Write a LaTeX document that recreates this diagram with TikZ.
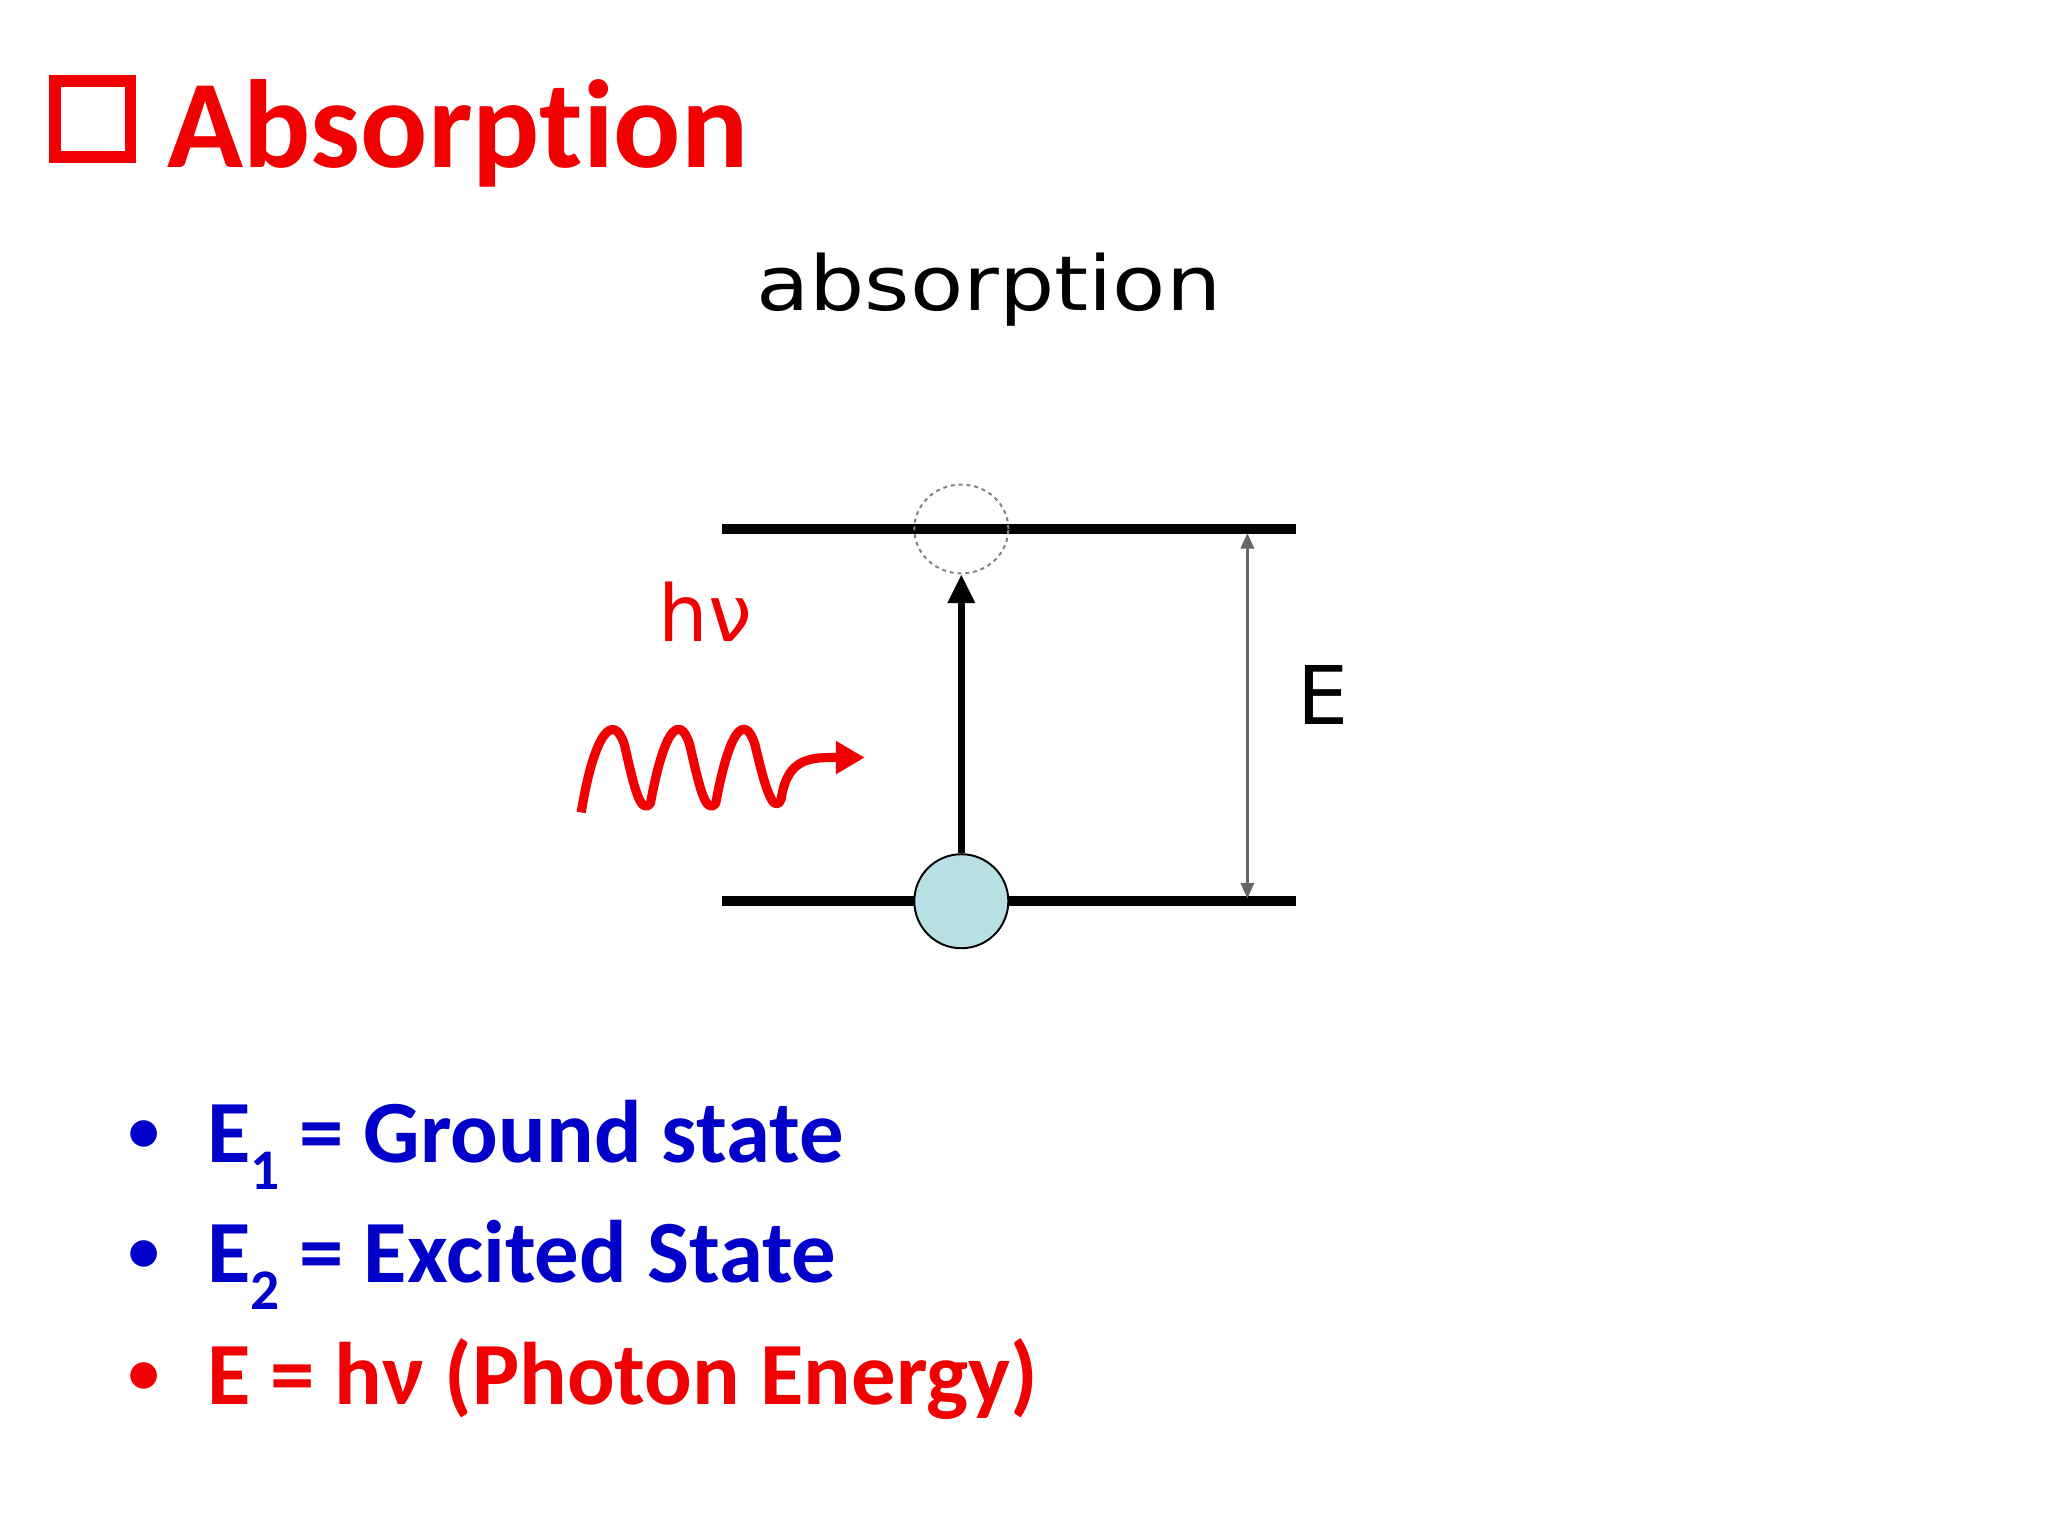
\documentclass[tikz,border=0pt]{standalone}
\usepackage{fontspec}
\setmainfont[Ligatures=NoCommon,Contextuals=NoAlternate]{Carlito}
\newfontfamily\diag{DejaVu Sans}
\usetikzlibrary{arrows.meta,shapes.geometric}
\definecolor{tred}{RGB}{240,0,0}
\definecolor{tblue}{RGB}{0,0,200}
\definecolor{ball}{RGB}{184,224,228}
\newcommand{\mysub}[1]{\raisebox{-0.3em}{\fontsize{44}{50}\selectfont #1}}
\newcommand{\mybul}{\makebox[60pt][l]{\raisebox{0.12em}{\fontsize{48}{50}\selectfont•}}}
\tikzset{level/.style={line width=8pt},
 bul/.style={anchor=base west,font=\fontsize{68}{80}\selectfont\bfseries}}
\begin{document}
\begin{tikzpicture}[x=1pt,y=-1pt]
\useasboundingbox (0,0) rectangle (1568,1176);
% title
\draw[tred,line width=9pt] (42,62) rectangle (100,120);
\node[tred,anchor=base west,font=\fontsize{96}{110}\selectfont\bfseries] (title) at (125,128) {Absorption};
\node[font=\diag\fontsize{58}{66}\selectfont,xscale=1.15] (sub) at (757,222) {absorption};
% levels
\coordinate (u1) at (553,405); \coordinate (u2) at (992,405);
\coordinate (l1) at (553,690); \coordinate (l2) at (992,690);
\draw[level] (u1) -- (u2);
\draw[level] (l1) -- (l2);
\node[draw=gray,dashed,ellipse,minimum width=72pt,minimum height=68pt,line width=1.5pt,inner sep=0] (ex) at (736,405) {};
\node[draw=black,fill=ball,circle,minimum size=72pt,line width=1.5pt,inner sep=0] (gs) at (736,690) {};
\draw[line width=5pt,-{Triangle[length=22pt,width=20pt]}] (gs.north) -- (ex.south);
\coordinate (ea) at (955,408); \coordinate (eb) at (955,688);
\draw[gray!80!black,line width=2.5pt,{Triangle[length=12pt,width=10pt]}-{Triangle[length=12pt,width=10pt]}] (ea) -- (eb);
\node[font=\diag\fontsize{62}{70}\selectfont] (E) at (1013,532) {E};
\node[tred,font=\diag\fontsize{60}{70}\selectfont] (hv) at (540,468) {hν};
% photon
\draw[tred,line width=7pt,line join=round,-{Triangle[length=22pt,width=24pt]}]
 (445,622) .. controls (455,560) and (470,545) .. (478,570)
 .. controls (485,600) and (490,625) .. (498,615)
 .. controls (508,560) and (520,545) .. (528,570)
 .. controls (535,600) and (540,625) .. (548,615)
 .. controls (558,560) and (570,545) .. (578,570)
 .. controls (585,600) and (592,625) .. (598,612)
 .. controls (602,585) and (615,580) .. (635,580) -- (662,580);
% bullets
\node[tblue,bul] (b1) at (95,890) {\mybul E\mysub{1} = Ground state};
\node[tblue,bul] (b2) at (95,982) {\mybul E\mysub{2} = Excited State};
\node[tred,bul] (b3) at (95,1075) {\mybul E = hν (Photon Energy)};
\end{tikzpicture}
\end{document}
